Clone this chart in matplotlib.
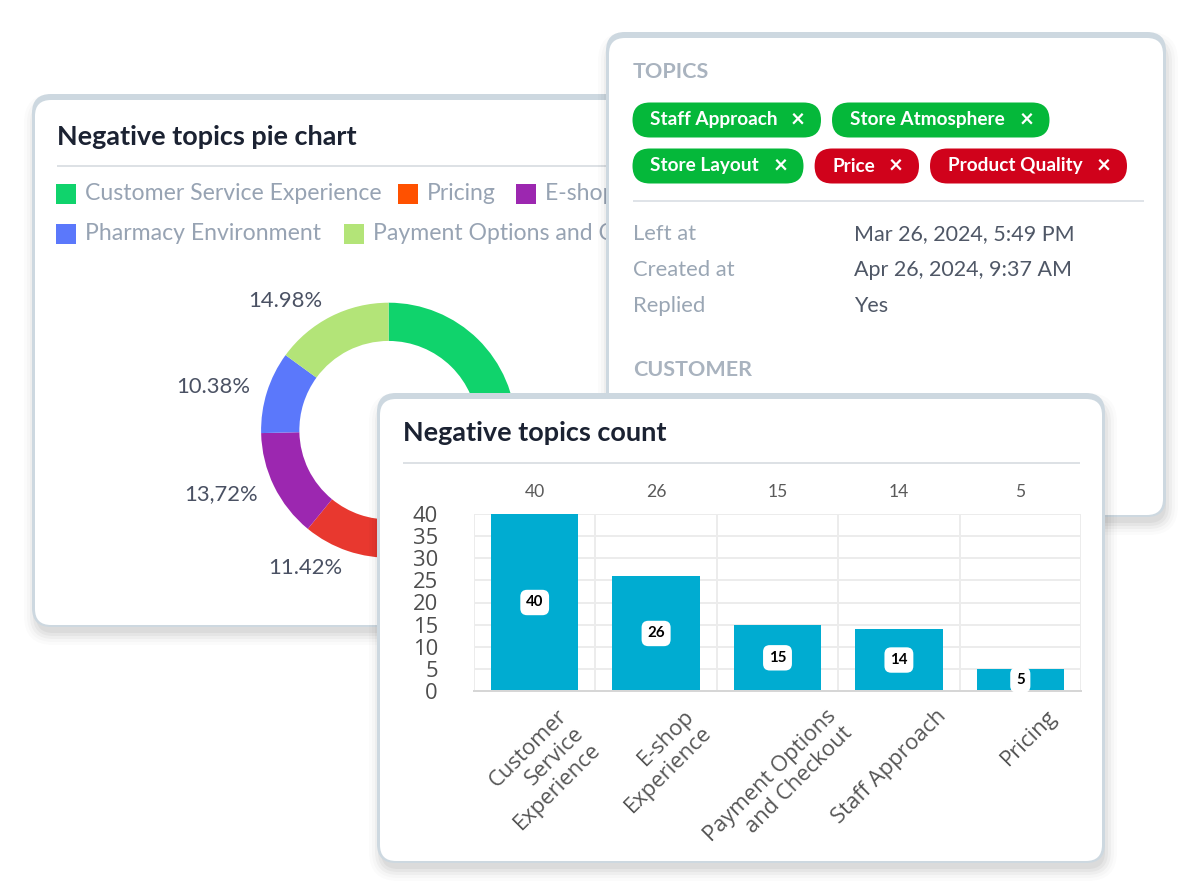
import matplotlib
matplotlib.use('Agg')
import matplotlib.pyplot as plt
import matplotlib.transforms as mtransforms
from matplotlib.patches import FancyBboxPatch, Rectangle
import numpy as np

# ---------------- data ----------------
pie_categories = ['Customer Service Experience', 'Pricing', 'E-shop Experience',
                  'Pharmacy Environment', 'Payment Options and Checkout']
pie_shares = [49.50, 11.42, 13.72, 10.38, 14.98]
pie_labels = ['', '11.42%', '13,72%', '10.38%', '14.98%']
pie_colors = ['#10d36c', '#e8382f', '#9c27b0', '#5b78fb', '#b3e478']
legend_colors = ['#10d36c', '#ff5100', '#9c27b0', '#5b78fb', '#b3e478']

bar_categories = ['Customer\nService\nExperience', 'E-shop\nExperience',
                  'Payment Options\nand Checkout', 'Staff Approach', 'Pricing']
bar_counts = [40, 26, 15, 14, 5]
y_ticks = [0, 5, 10, 15, 20, 25, 30, 35, 40]

topic_names = ['Staff Approach', 'Store Atmosphere', 'Store Layout', 'Price', 'Product Quality']
topic_is_negative = [False, False, False, True, True]
detail_labels = ['Left at', 'Created at', 'Replied']
detail_values = ['Mar 26, 2024, 5:49 PM', 'Apr 26, 2024, 9:37 AM', 'Yes']

# ---------------- layout ----------------
W, H, DPI = 1203, 896, 100
PT = 72.0 / DPI            # points per pixel
UI = 'Lato'
AX = 'Open Sans'

TITLE_C = '#1b2232'
LEG_C = '#97a3b3'

fig = plt.figure(figsize=(W / DPI, H / DPI), dpi=DPI, facecolor='white')


def page_axes(z):
    a = fig.add_axes([0, 0, 1, 1], zorder=z)
    a.set_xlim(0, W)
    a.set_ylim(H, 0)
    a.axis('off')
    a.patch.set_visible(False)
    return a


def card(a, x0, y0, x1, y1, r=16):
    # soft shadow
    for i, al in enumerate([0.04, 0.035, 0.03, 0.02, 0.015]):
        e = 1 + i * 3
        a.add_patch(FancyBboxPatch((x0 - e + 2, y0 - e + 7), (x1 - x0) + 2 * e, (y1 - y0) + 2 * e,
                                   boxstyle=f'round,pad=0,rounding_size={r + e}',
                                   fc='black', ec='none', alpha=al))
    # border
    a.add_patch(FancyBboxPatch((x0 - 3, y0 - 6), x1 - x0 + 6, y1 - y0 + 8,
                               boxstyle=f'round,pad=0,rounding_size={r + 3}',
                               fc='#cdd8e0', ec='none'))
    a.add_patch(FancyBboxPatch((x0, y0), x1 - x0, y1 - y0,
                               boxstyle=f'round,pad=0,rounding_size={r}',
                               fc='white', ec='none'))


# ---------------- card 1 : pie ----------------
a1 = page_axes(1)
card(a1, 35, 100, 900, 625)
a1.text(57, 137, 'Negative topics pie chart', fontsize=27 * PT, fontweight='bold',
        color=TITLE_C, family=UI, va='center', ha='left')
a1.plot([57, 900], [166, 166], color='#dde1e5', lw=2 * PT, solid_capstyle='butt')

clip_rect = Rectangle((35, 100), 574, 525, transform=a1.transData)
legend_xy = [(56, 194), (398, 194), (516, 194), (56, 234), (344, 234)]
for (lx, ly), name, col in zip(legend_xy, pie_categories, legend_colors):
    a1.add_patch(Rectangle((lx, ly - 10), 20, 20, fc=col, ec='none'))
    t = a1.text(lx + 29, ly, name, fontsize=23 * PT, color=LEG_C, family=UI,
                va='center', ha='left')
    t.set_clip_path(clip_rect)

# donut axes
cx, cy, R, S = 388.6, 430.2, 127.5, 420
axd = fig.add_axes([(cx - S / 2) / W, (H - cy - S / 2) / H, S / W, S / H], zorder=2)
axd.patch.set_visible(False)
wedges, texts = axd.pie(pie_shares, labels=pie_labels, colors=pie_colors, startangle=90,
                        counterclock=False, radius=1.0, labeldistance=1.14,
                        wedgeprops=dict(width=0.30, linewidth=0),
                        textprops=dict(fontsize=22 * PT, color='#4a5163', family=UI))
L = S / 2 / R
axd.set_xlim(-L, L)
axd.set_ylim(-L, L)
axd.set_aspect('equal')
axd.axis('off')

# ---------------- card 2 : topics ----------------
a2 = page_axes(3)
card(a2, 609, 38, 1163, 515)
HEAD_C = '#a9b3bf'
a2.text(633, 72, 'TOPICS', fontsize=21.5 * PT, fontweight='bold', color=HEAD_C,
        family=UI, va='center', ha='left')

pill_spans = [(632.5, 821, 120), (832, 1049.5, 120), (632.5, 803.5, 166),
              (814.6, 919, 166), (930, 1127, 166)]
for (px0, px1, py), name, neg in zip(pill_spans, topic_names, topic_is_negative):
    col = '#d0021b' if neg else '#05b83a'
    a2.add_patch(FancyBboxPatch((px0, py - 17.5), px1 - px0, 35,
                                boxstyle='round,pad=0,rounding_size=17.5',
                                fc=col, ec='none'))
    a2.text(px0 + 18, py, name, fontsize=19 * PT, color='white', family=UI,
            fontweight='bold', va='center', ha='left')
    a2.text(px1 - 23, py - 1, '\u00d7', fontsize=24 * PT, color='white', family=UI,
            fontweight='bold', va='center', ha='center')

a2.plot([632.5, 1144], [201, 201], color='#dfe3e8', lw=2 * PT, solid_capstyle='butt')
for i, (lab, val) in enumerate(zip(detail_labels, detail_values)):
    yy = 234 + 36 * i
    a2.text(633, yy, lab, fontsize=22 * PT, color='#9aa6b4', family=UI, va='center', ha='left')
    a2.text(854.5, yy, val, fontsize=21.5 * PT, color='#4f5766', family=UI, va='center', ha='left')
a2.text(633, 370, 'CUSTOMER', fontsize=21.5 * PT, fontweight='bold', color=HEAD_C,
        family=UI, va='center', ha='left')

# ---------------- card 3 : bar chart ----------------
a3 = page_axes(4)
card(a3, 380, 399, 1102, 861)
a3.text(403, 433, 'Negative topics count', fontsize=27 * PT, fontweight='bold',
        color=TITLE_C, family=UI, va='center', ha='left')
a3.plot([403, 1080], [463, 463], color='#dde1e5', lw=2 * PT, solid_capstyle='butt')

px_l, px_r, px_t, px_b = 474, 1081, 514, 691
axb = fig.add_axes([px_l / W, (H - px_b) / H, (px_r - px_l) / W, (px_b - px_t) / H], zorder=5)
axb.patch.set_visible(False)
xs = np.arange(len(bar_counts))
axb.bar(xs, bar_counts, width=0.72, color='#00acd1', zorder=3)
axb.set_xlim(-0.5, len(xs) - 0.5)
axb.set_ylim(0, 40)
axb.set_yticks(y_ticks)
axb.set_yticklabels([str(t) for t in y_ticks], family=AX)
axb.set_xticks(xs)
axb.set_xticklabels([''] * len(xs))
axb.set_xticks(np.arange(-0.5, len(xs)), minor=True)
axb.yaxis.grid(True, color='#ececec', lw=2 * PT, zorder=0)
axb.xaxis.grid(True, which='minor', color='#ececec', lw=2 * PT, zorder=0)
axb.set_axisbelow(True)
for s in ['top', 'right', 'left']:
    axb.spines[s].set_visible(False)
axb.spines['bottom'].set_color('#d6d6d6')
axb.spines['bottom'].set_linewidth(2 * PT)
axb.spines['bottom'].set_zorder(4)
axb.tick_params(axis='both', which='both', length=0)
axb.tick_params(axis='y', labelsize=22 * PT, labelcolor='#4d4d4d', pad=26)

for i, v in enumerate(bar_counts):
    axb.annotate(str(v), xy=(i, 1), xycoords=('data', 'axes fraction'),
                 xytext=(0, 22 * PT), textcoords='offset points', ha='center', va='center',
                 fontsize=17.5 * PT, color='#5a5a5a', family=UI)
    axb.text(i, v / 2, str(v), ha='center', va='center', fontsize=15 * PT,
             fontweight='bold', color='black', family=UI, zorder=5,
             bbox=dict(boxstyle='round,pad=0.38,rounding_size=0.45', fc='white', ec='none'))

# per-label pixel nudges of the rotated tick labels (layout only)
xlabel_dx = [22, 28, 48, 37, 26]
xlabel_dy = 15
for i, lab in enumerate(bar_categories):
    off = mtransforms.ScaledTranslation(xlabel_dx[i] / DPI, -xlabel_dy / DPI, fig.dpi_scale_trans)
    axb.text(i, 0, lab, transform=axb.get_xaxis_transform() + off, rotation=45,
             rotation_mode='anchor', ha='right', va='top', multialignment='right',
             fontsize=22 * PT, color='#555555', family=AX, linespacing=1.15)

fig.savefig('out.png', dpi=DPI, facecolor='white')
